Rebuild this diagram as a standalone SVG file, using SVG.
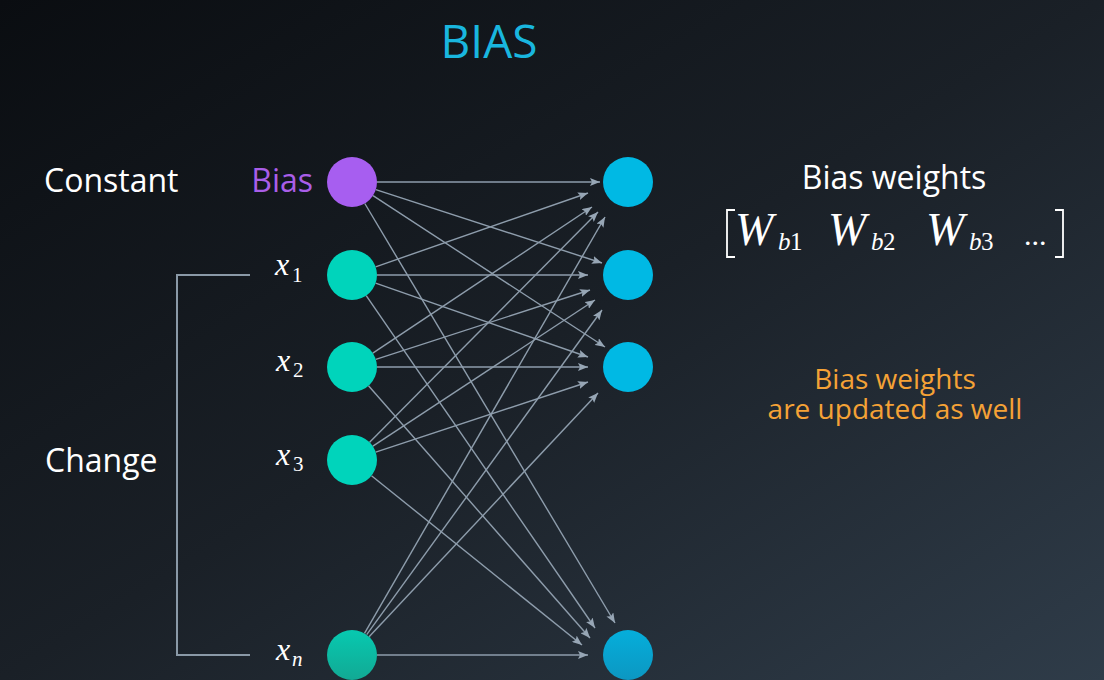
<svg xmlns="http://www.w3.org/2000/svg" width="1104" height="680" viewBox="0 0 1104 680">
<defs>
<linearGradient id="bg" x1="0" y1="0" x2="1" y2="1">
<stop offset="0" stop-color="#0a0d11"/>
<stop offset="0.5" stop-color="#1a2027"/>
<stop offset="1" stop-color="#2f3c49"/>
</linearGradient>
<linearGradient id="gn" x1="0" y1="0" x2="0" y2="1">
<stop offset="0" stop-color="#07c9b0"/>
<stop offset="1" stop-color="#12a994"/>
</linearGradient>
<linearGradient id="gr" x1="0" y1="0" x2="0" y2="1">
<stop offset="0" stop-color="#05aedb"/>
<stop offset="1" stop-color="#0c97c2"/>
</linearGradient>
<marker id="ah" markerUnits="userSpaceOnUse" markerWidth="11" markerHeight="8" refX="10" refY="4" orient="auto">
<path d="M0,0 L10,4 L0,8 L2,4 z" fill="#97a6b5"/>
</marker>
<style>
.e{stroke:#8e9dac;stroke-width:1.4;fill:none;marker-end:url(#ah)}
.sans{font-family:"Open Sans","Noto Sans","Liberation Sans",sans-serif}
.math{font-family:"Liberation Serif","DejaVu Serif",serif;font-style:italic;fill:#ffffff}
.up{font-family:"Liberation Serif","DejaVu Serif",serif;font-style:normal;fill:#ffffff}
.inp{fill:#00d4bb}
.out{fill:#00b9e4}
</style>
</defs>
<rect x="0" y="0" width="1104" height="680" fill="url(#bg)"/>
<text x="489" y="58" class="sans" font-size="46" fill="#19b6df" text-anchor="middle">BIAS</text>
<text x="44" y="192" class="sans" font-size="32" fill="#ffffff">Constant</text>
<text x="45" y="472" class="sans" font-size="32" fill="#ffffff">Change</text>
<path d="M250,275 H177 V655 H250" fill="none" stroke="#8a99a7" stroke-width="2"/>
<g id="connectors">
<line class="e" x1="377" y1="182" x2="600" y2="182"/>
<line class="e" x1="375.8" y1="189.7" x2="602" y2="263"/>
<line class="e" x1="373" y1="195.7" x2="605" y2="347"/>
<line class="e" x1="364.8" y1="203.5" x2="615" y2="623"/>
<line class="e" x1="375.6" y1="266.8" x2="588" y2="193"/>
<line class="e" x1="377" y1="275" x2="588" y2="275"/>
<line class="e" x1="375.6" y1="283.2" x2="588" y2="357"/>
<line class="e" x1="366.2" y1="295.6" x2="595" y2="628"/>
<line class="e" x1="372.8" y1="353.1" x2="592" y2="207"/>
<line class="e" x1="375.8" y1="359.3" x2="590" y2="290"/>
<line class="e" x1="377" y1="367" x2="588" y2="367"/>
<line class="e" x1="368.5" y1="385.8" x2="590" y2="638"/>
<line class="e" x1="369.6" y1="442.3" x2="598" y2="212"/>
<line class="e" x1="372.9" y1="446.2" x2="595" y2="300"/>
<line class="e" x1="375.7" y1="452.2" x2="588" y2="382"/>
<line class="e" x1="371.5" y1="475.7" x2="582" y2="645"/>
<line class="e" x1="364.5" y1="633.4" x2="605" y2="217"/>
<line class="e" x1="366.7" y1="634.7" x2="602" y2="310"/>
<line class="e" x1="369.1" y1="636.8" x2="598" y2="393"/>
<line class="e" x1="377" y1="655" x2="588" y2="655"/>
</g>
<g id="bias">
<text x="313" y="192" class="sans" font-size="32" fill="#a95ee8" text-anchor="end">Bias</text>
<circle cx="352" cy="182" r="25" fill="#a75ef0"/>
</g>
<g id="x1">
<text x="275" y="275" class="math" font-size="32">x</text><text x="292" y="282" class="up" font-size="21">1</text>
<circle cx="352" cy="275" r="25" class="inp"/>
</g>
<g id="x2">
<text x="276" y="371" class="math" font-size="32">x</text><text x="293" y="377" class="up" font-size="21">2</text>
<circle cx="352" cy="367" r="25" class="inp"/>
</g>
<g id="x3">
<text x="276" y="465" class="math" font-size="32">x</text><text x="293" y="471" class="up" font-size="21">3</text>
<circle cx="352" cy="460" r="25" class="inp"/>
</g>
<g id="xn">
<text x="276" y="660" class="math" font-size="32">x</text><text x="292" y="666" class="math" font-size="21">n</text>
<circle cx="352" cy="655" r="25" fill="url(#gn)"/>
</g>
<g id="o1"><circle cx="628" cy="182" r="25" class="out"/></g>
<g id="o2"><circle cx="628" cy="275" r="25" class="out"/></g>
<g id="o3"><circle cx="628" cy="367" r="25" class="out"/></g>
<g id="on"><circle cx="628" cy="655" r="25" fill="url(#gr)"/></g>
<g id="weights">
<text x="894" y="189" class="sans" font-size="32" fill="#ffffff" text-anchor="middle">Bias weights</text>
<path d="M735,210 H727 V257 H735" fill="none" stroke="#ffffff" stroke-width="1.8"/>
<text x="735" y="245" class="math" font-size="46">W</text><text x="778" y="250" class="math" font-size="25">b</text><text x="790" y="250" class="up" font-size="25">1</text>
<text x="828" y="245" class="math" font-size="46">W</text><text x="871" y="250" class="math" font-size="25">b</text><text x="883" y="250" class="up" font-size="25">2</text>
<text x="926" y="245" class="math" font-size="46">W</text><text x="969" y="250" class="math" font-size="25">b</text><text x="981" y="250" class="up" font-size="25">3</text>
<text x="1024" y="245" class="up" font-size="30">...</text>
<path d="M1055,210 H1063 V257 H1055" fill="none" stroke="#ffffff" stroke-width="1.8"/>
</g>
<text class="sans" font-size="28" fill="#f5a236" text-anchor="middle"><tspan x="895" y="389">Bias weights</tspan><tspan x="895" y="419">are updated as well</tspan></text>
</svg>
